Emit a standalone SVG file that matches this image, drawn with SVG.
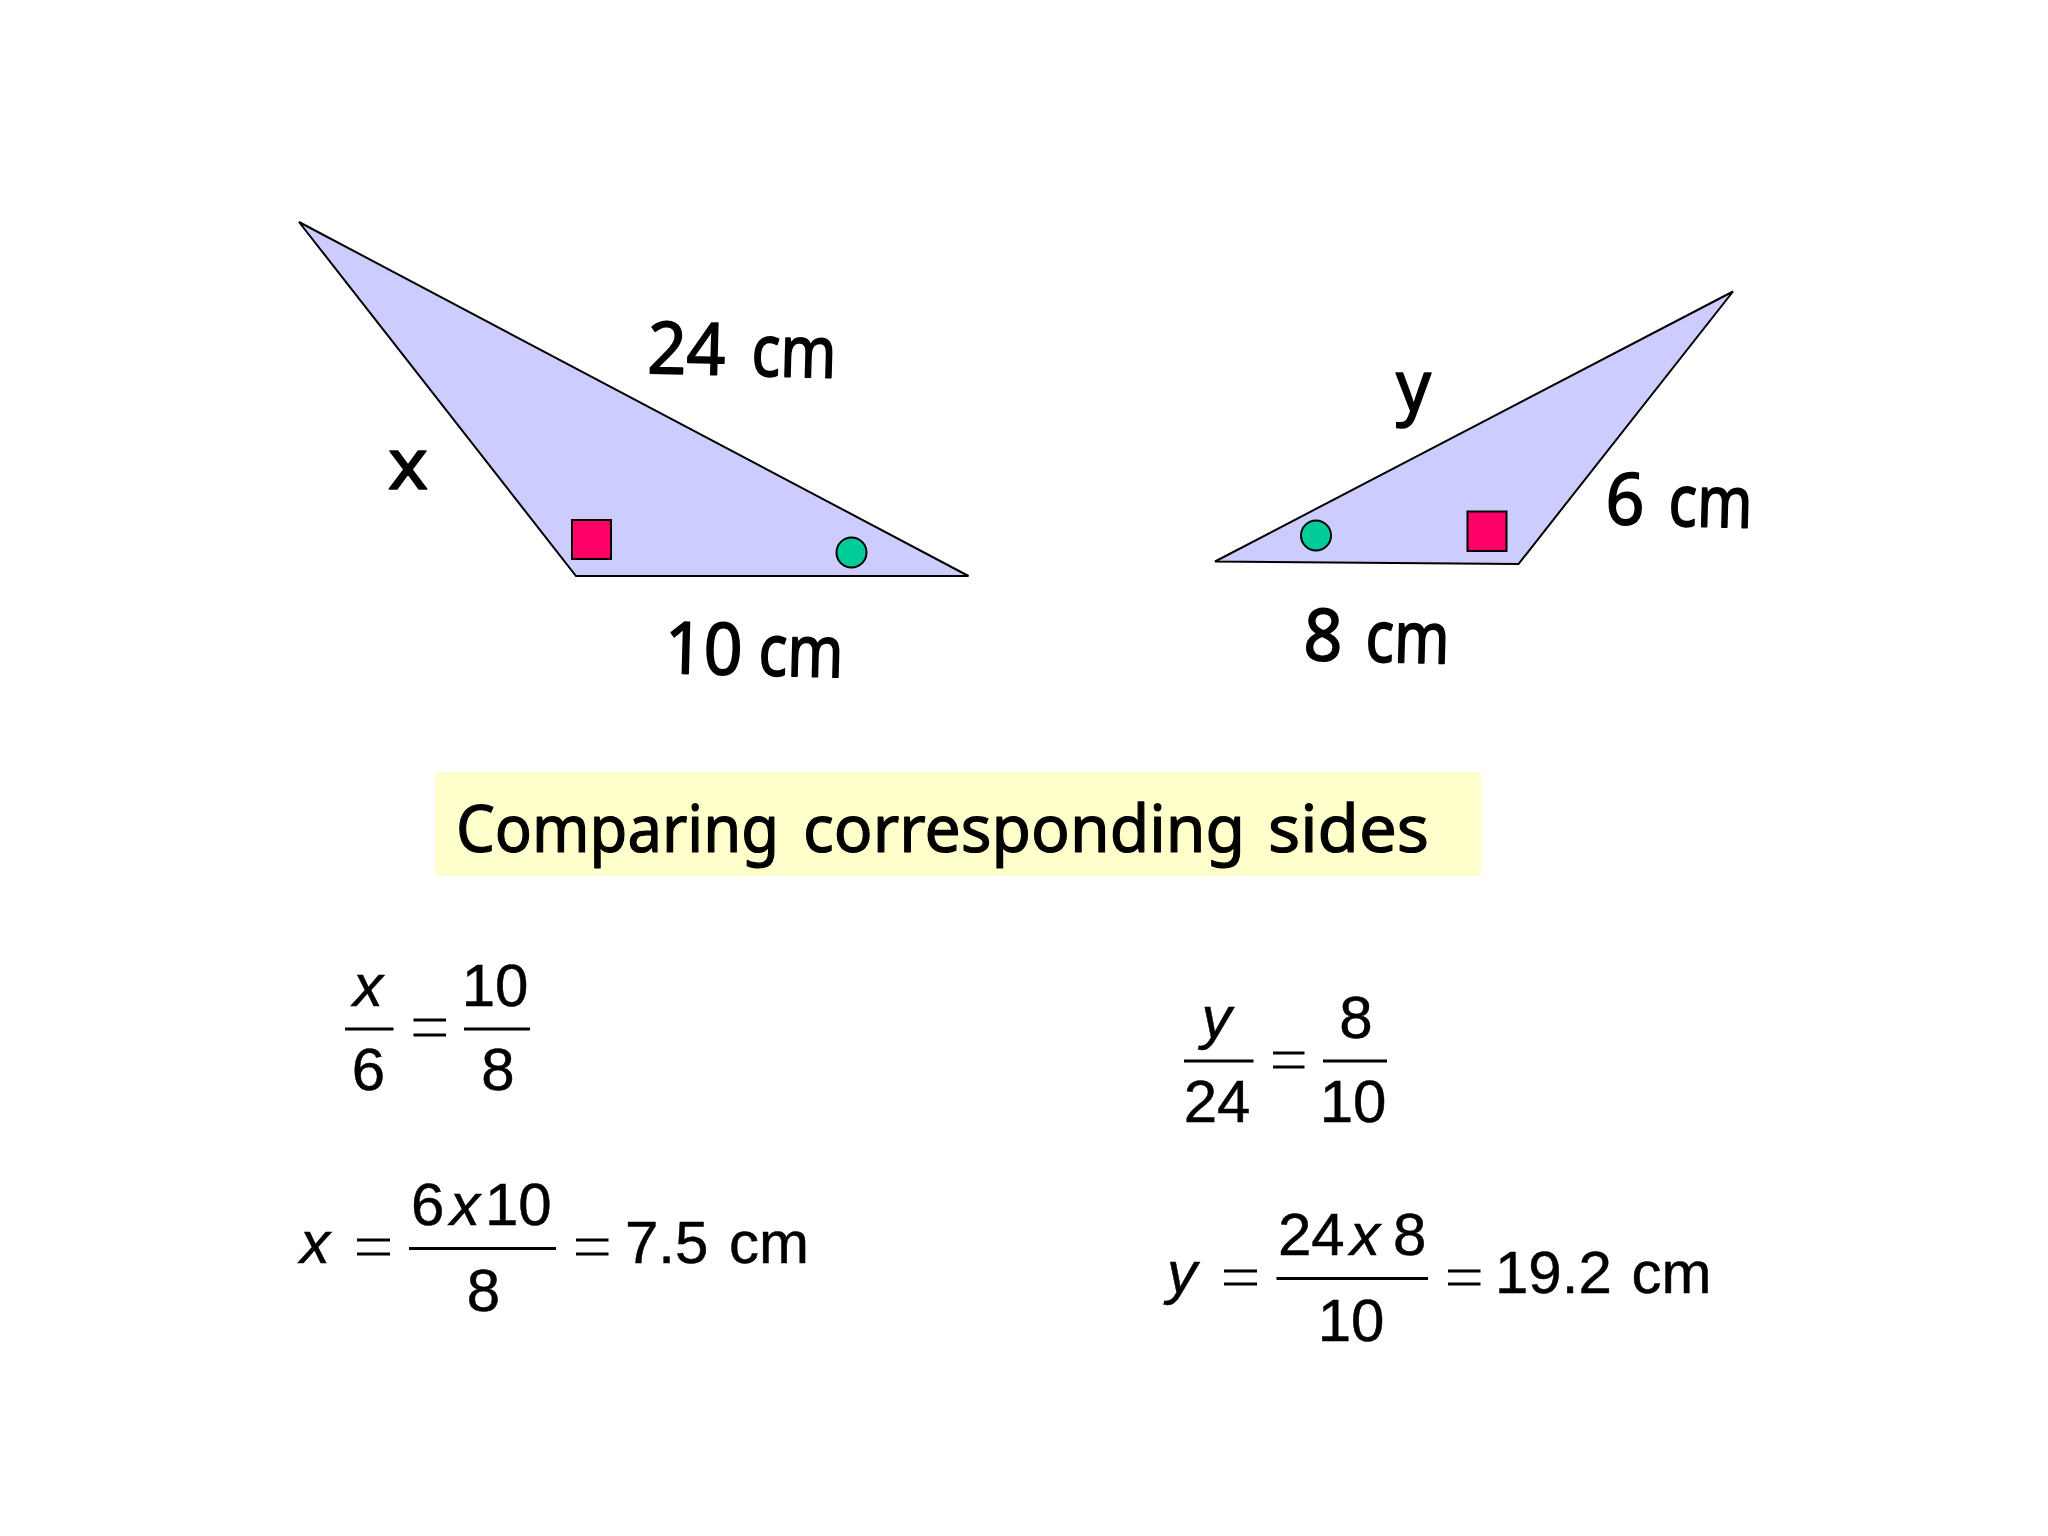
<svg xmlns="http://www.w3.org/2000/svg" width="2048" height="1536" viewBox="0 0 2048 1536">
<style>
.tri{fill:#CCCCFF;stroke:#000;stroke-width:2;stroke-linejoin:miter}
.sq{fill:#FF0066;stroke:#000;stroke-width:2}
.ci{fill:#00CC99;stroke:#000;stroke-width:2}
.hand{font-family:"Noto Sans","Open Sans",sans-serif;fill:#000;stroke:#000;stroke-width:1.6;stroke-linejoin:round;stroke-linecap:round;font-size:72px}
.head{font-size:65px;stroke-width:1.2px}
.m{font-family:"Liberation Sans",Arial,sans-serif;font-size:60px;fill:#000;stroke:#000;stroke-width:.5}
.mc{text-anchor:middle}
.i{font-style:italic}
.r{stroke:#000;stroke-width:3;fill:none}
</style>
<rect width="2048" height="1536" fill="#FFFFFF"/>
<g id="triangle-left">
<polygon class="tri" points="299,222 576,576 968.500,576"/>
<rect class="sq" x="572" y="520" width="39" height="39"/>
<circle class="ci" cx="851.500" cy="552.500" r="15"/>
<text class="hand" y="373" transform="rotate(1.500 648 373)"><tspan x="647" textLength="78" lengthAdjust="spacingAndGlyphs">24</tspan> <tspan x="751" textLength="85" lengthAdjust="spacingAndGlyphs">cm</tspan></text>
<text class="hand" x="388" y="489" textLength="40" lengthAdjust="spacingAndGlyphs">x</text>
<text class="hand" y="673" transform="rotate(1.500 668 673)"><tspan x="664" textLength="78" lengthAdjust="spacingAndGlyphs">10</tspan> <tspan x="758" textLength="85" lengthAdjust="spacingAndGlyphs">cm</tspan></text>
</g>
<g id="triangle-right">
<polygon class="tri" points="1215,561.500 1518.500,564 1733,291.500"/>
<rect class="sq" x="1467.500" y="511.500" width="39" height="39.500"/>
<circle class="ci" cx="1316" cy="535.500" r="15"/>
<text class="hand" x="1396" y="411" textLength="35" lengthAdjust="spacingAndGlyphs">y</text>
<text class="hand" y="524" transform="rotate(1.500 1605 524)"><tspan x="1605" textLength="39" lengthAdjust="spacingAndGlyphs">6</tspan> <tspan x="1668" textLength="84" lengthAdjust="spacingAndGlyphs">cm</tspan></text>
<text class="hand" y="660" transform="rotate(1.500 1303 660)"><tspan x="1303" textLength="39" lengthAdjust="spacingAndGlyphs">8</tspan> <tspan x="1365" textLength="84" lengthAdjust="spacingAndGlyphs">cm</tspan></text>
</g>
<g id="heading">
<rect x="435" y="772" width="1046" height="104" fill="#FFFFCC"/>
<text class="hand head" y="852"><tspan x="456" textLength="323" lengthAdjust="spacingAndGlyphs">Comparing</tspan> <tspan x="803" textLength="442" lengthAdjust="spacingAndGlyphs">corresponding</tspan> <tspan x="1268" textLength="161" lengthAdjust="spacingAndGlyphs">sides</tspan></text>
</g>
<g id="eq-x-ratio">
<text class="m mc i" x="368" y="1006">x</text>
<line class="r" x1="345" y1="1029" x2="393.500" y2="1029"/>
<text class="m mc" x="368.500" y="1090">6</text>
<line class="r" x1="413.500" y1="1020" x2="446" y2="1020"/><line class="r" x1="413.500" y1="1035" x2="446" y2="1035"/>
<text class="m mc" x="495" y="1006">10</text>
<line class="r" x1="464" y1="1029" x2="530" y2="1029"/>
<text class="m mc" x="498" y="1090">8</text>
</g>
<g id="eq-x-result">
<text class="m mc i" x="315" y="1263">x</text>
<line class="r" x1="357" y1="1240" x2="390" y2="1240"/><line class="r" x1="357" y1="1254" x2="390" y2="1254"/>
<text class="m" y="1225"><tspan x="411">6</tspan><tspan x="450" class="i">x</tspan><tspan x="485">10</tspan></text>
<line class="r" x1="409" y1="1248.500" x2="556" y2="1248.500"/>
<text class="m mc" x="483.500" y="1311">8</text>
<line class="r" x1="576" y1="1240" x2="608.500" y2="1240"/><line class="r" x1="576" y1="1254" x2="608.500" y2="1254"/>
<text class="m" x="625" y="1263" word-spacing="4">7.5 cm</text>
</g>
<g id="eq-y-ratio">
<text class="m mc i" x="1216.500" y="1038">y</text>
<line class="r" x1="1184" y1="1061" x2="1253.500" y2="1061"/>
<text class="m mc" x="1217" y="1122">24</text>
<line class="r" x1="1273" y1="1053" x2="1304.500" y2="1053"/><line class="r" x1="1273" y1="1067" x2="1304.500" y2="1067"/>
<text class="m mc" x="1356" y="1038">8</text>
<line class="r" x1="1323" y1="1061" x2="1387" y2="1061"/>
<text class="m mc" x="1353" y="1122">10</text>
</g>
<g id="eq-y-result">
<text class="m mc i" x="1182" y="1293">y</text>
<line class="r" x1="1224" y1="1271" x2="1257" y2="1271"/><line class="r" x1="1224" y1="1284" x2="1257" y2="1284"/>
<text class="m" y="1255"><tspan x="1278">24</tspan><tspan x="1350" class="i">x</tspan><tspan x="1393">8</tspan></text>
<line class="r" x1="1276.500" y1="1278.500" x2="1428" y2="1278.500"/>
<text class="m mc" x="1351" y="1341">10</text>
<line class="r" x1="1448" y1="1271" x2="1480.500" y2="1271"/><line class="r" x1="1448" y1="1284" x2="1480.500" y2="1284"/>
<text class="m" x="1495" y="1293" word-spacing="3">19.2 cm</text>
</g>
</svg>
